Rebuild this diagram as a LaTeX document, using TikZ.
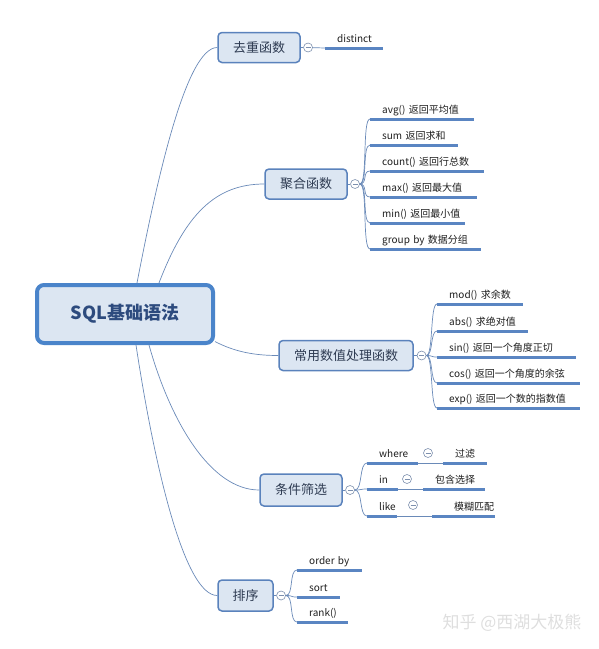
\documentclass[tikz,border=0pt]{standalone}
\usepackage{fontspec}
\setmainfont{Noto Sans CJK SC}
\usetikzlibrary{positioning}
\definecolor{rootline}{HTML}{4A84CA}
\definecolor{boxline}{HTML}{5A82BC}
\definecolor{boxfill}{HTML}{DCE6F2}
\definecolor{linkcol}{HTML}{6A8AB8}
\definecolor{ulinecol}{HTML}{5A85C2}
\definecolor{foldcol}{HTML}{7D90AE}
\definecolor{roottext}{HTML}{2D4B7E}
\definecolor{boxtext}{HTML}{2E3B52}
\definecolor{leaftext}{HTML}{1E1E1E}
\protected\def\leaffont{\fontsize{10}{12}\selectfont\spaceskip=0.28em\relax}
\tikzset{
  rootbox/.style={draw=rootline, fill=boxfill, line width=4pt, rounded corners=7pt,
    minimum width=176pt, minimum height=58pt, inner sep=0pt, text=roottext,
    font=\fontsize{18}{20}\selectfont\bfseries},
  topic/.style={draw=boxline, fill=boxfill, line width=1.5pt, rounded corners=4pt,
    minimum height=30pt, inner sep=0pt, text=boxtext, font=\fontsize{13}{15}\selectfont},
  fold/.style={circle, draw=foldcol, fill=white, line width=0.6pt, minimum size=9pt, inner sep=0pt,
    path picture={\draw[foldcol, line width=0.6pt]
      ([xshift=-2.5pt]path picture bounding box.center) -- ([xshift=2.5pt]path picture bounding box.center);}},
  leaf/.style={anchor=south west, inner xsep=0pt, inner ysep=3pt, text width=#1, align=left,
    text height=8pt, text depth=2.5pt, text=leaftext, font=\leaffont,
    execute at begin node={\hspace*{12pt}}},
  uline/.style={draw=ulinecol, line width=3pt},
  link/.style={draw=linkcol, line width=0.7pt},
}
\begin{document}
\begin{tikzpicture}[x=1pt, y=-1pt]
    \useasboundingbox (0,0) rectangle (599,649);
    % Root
    \node[rootbox] (root) at (125,314) {SQL基础语法};
    % Topics
    \node[topic, minimum width=82pt] (dedup) at (259,47.5) {去重函数};
    \node[topic, minimum width=82pt] (agg) at (306,184) {聚合函数};
    \node[topic, minimum width=134pt] (num) at (346,355.5) {常用数值处理函数};
    \node[topic, minimum width=82pt, minimum height=32pt] (cond) at (301,490) {条件筛选};
    \node[topic, minimum width=55pt, minimum height=31pt] (order) at (245.5,595.5) {排序};
    % Root links
    \draw[link] ([xshift=12pt]root.north) .. controls (155,190) and (185,47.5) .. (dedup.west);
    \draw[link] ([xshift=34pt]root.north) .. controls (185,215) and (215,184) .. (agg.west);
    \draw[link] (root.-17) .. controls (235,352) and (255,355.5) .. (num.west);
    \draw[link] ([xshift=24pt]root.south) .. controls (170,420) and (210,490) .. (cond.west);
    \draw[link] ([xshift=11pt]root.south) .. controls (155,470) and (185,595.5) .. (order.west);
    % Fold buttons
    \node[fold, right=2.5pt of dedup] (dedup-f) {};
    \node[fold, right=2.5pt of agg] (agg-f) {};
    \node[fold, right=3pt of num] (num-f) {};
    \node[fold, right=2.5pt of cond] (cond-f) {};
    \node[fold, right=2.5pt of order] (order-f) {};
    \foreach \t in {dedup, agg, num, cond, order}
        \draw[link] (\t) -- (\t-f);
    % 去重函数
    \node[leaf=58pt] (distinct) at (325,48) {distinct};
    \draw[link] (dedup-f) -- (distinct.south west);
    \draw[uline] (distinct.south west) -- (distinct.south east);
    % 聚合函数
    \node[leaf=104pt] (avg) at (370,119) {avg() 返回平均值};
    \node[leaf=88pt] (sum) at (370,145) {sum 返回求和};
    \node[leaf=114pt] (count) at (370,171) {count() 返回行总数};
    \node[leaf=107pt] (max) at (370,197) {max() 返回最大值};
    \node[leaf=95pt] (min) at (370,223) {min() 返回最小值};
    \node[leaf=111pt] (group) at (370,249) {group by 数据分组};
    \foreach \t in {avg, sum, count, max, min, group} {
        \draw[link] (agg-f.east) .. controls +(8,0) and +(-8,0) .. (\t.south west);
        \draw[uline] (\t.south west) -- (\t.south east);
    }
    % 常用数值处理函数
    \node[leaf=86pt] (mod) at (437,304) {mod() 求余数};
    \node[leaf=91pt] (abs) at (437,331) {abs() 求绝对值};
    \node[leaf=139pt] (sin) at (437,357) {sin() 返回一个角度正切};
    \node[leaf=143pt] (cos) at (437,383) {cos() 返回一个角度的余弦};
    \node[leaf=143pt] (exp) at (437,408) {exp() 返回一个数的指数值};
    \foreach \t in {mod, abs, sin, cos, exp} {
        \draw[link] (num-f.east) .. controls +(7,0) and +(-7,0) .. (\t.south west);
        \draw[uline] (\t.south west) -- (\t.south east);
    }
    % 条件筛选
    \node[leaf=51pt] (where) at (367,463) {where};
    \node[leaf=31pt] (in) at (367,489) {in};
    \node[leaf=30pt] (like) at (367,516) {like};
    \node[leaf=44pt] (filter) at (443,463) {过滤};
    \node[leaf=62pt] (include) at (423,489) {包含选择};
    \node[leaf=63pt, execute at begin node={\hspace*{10pt}}] (fuzzy) at (432,516) {模糊匹配};
    \node[fold] (where-f) at (428,453) {};
    \node[fold] (in-f) at (407,479) {};
    \node[fold] (like-f) at (413,505) {};
    \foreach \t/\s in {where/filter, in/include, like/fuzzy} {
        \draw[link] (cond-f.east) .. controls +(8,0) and +(-8,0) .. (\t.south west);
        \draw[uline] (\t.south west) -- (\t.south east);
        \draw[link] (\t.south east) -- (\s.south west);
        \draw[uline] (\s.south west) -- (\s.south east);
    }
    % 排序
    \node[leaf=65pt] (orderby) at (297,570) {order by};
    \node[leaf=43pt] (sort) at (297,597) {sort};
    \node[leaf=51pt] (rank) at (297,622) {rank()};
    \foreach \t in {orderby, sort, rank} {
        \draw[link] (order-f.east) .. controls +(8,0) and +(-8,0) .. (\t.south west);
        \draw[uline] (\t.south west) -- (\t.south east);
    }
    % Watermark
    \node[text=black!13, font=\fontsize{17}{19}\selectfont] (mark) at (512,623) {知乎 @西湖大极熊};
\end{tikzpicture}
\end{document}
